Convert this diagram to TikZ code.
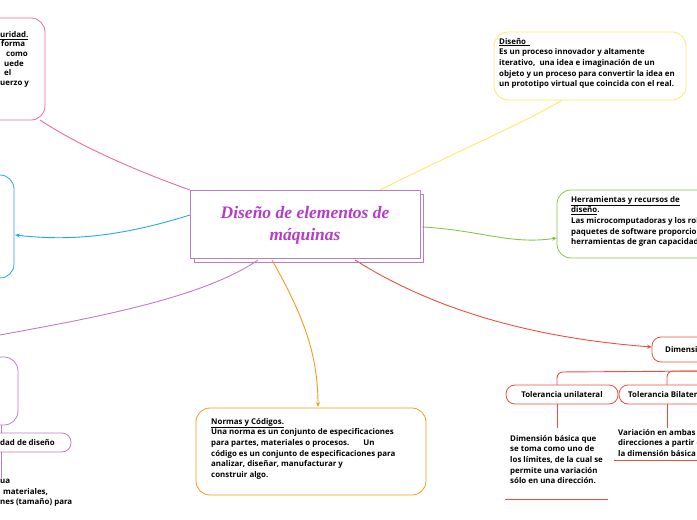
\documentclass[tikz,border=0pt]{standalone}
\usepackage{fontspec}
\setmainfont{Open Sans}
\newfontfamily\titlefont{Liberation Serif}
\usetikzlibrary{arrows.meta}
\definecolor{cpink}{HTML}{F06A9C}
\definecolor{cblue}{HTML}{2AA5E8}
\definecolor{cpurp}{HTML}{C07AC8}
\definecolor{corange}{HTML}{F39A1E}
\definecolor{cyellow}{HTML}{FDE96A}
\definecolor{cgreen}{HTML}{8BC34A}
\definecolor{cred}{HTML}{EA5040}
\definecolor{ctitle}{HTML}{B43CC8}
\tikzset{
  txt/.style={font=\bfseries\fontsize{7.9}{10.6}\selectfont, align=left, inner sep=0pt, anchor=north west, text=black},
  bub/.style={rounded corners=14pt, line width=0.8pt},
  pill/.style={rounded corners=9pt, line width=0.8pt},
  con/.style={line width=0.9pt},
  arr/.style={con,-{Stealth[length=5pt,width=4pt]}}
}
\begin{document}
\begin{tikzpicture}[x=1pt,y=-1pt]
\useasboundingbox (0,0) rectangle (697,520);
\clip (0,0) rectangle (697,520);
% connectors
\coordinate (cpinkend) at (40,120);
\draw[con,cpink] (190,190) .. controls (120,165) and (70,140) .. (cpinkend);
\draw[arr,cblue] (190,215) .. controls (110,240) and (60,240) .. (15,235);
\draw[con,cpurp] (258,260) .. controls (200,300) and (80,320) .. (0,335);
\draw[arr,corange] (272,260) .. controls (300,310) and (318,350) .. (318,407);
\draw[con,cyellow] (380,190) .. controls (460,150) and (530,120) .. (562,100);
\draw[arr,cgreen] (422,227) .. controls (480,230) and (510,245) .. (557,238);
\draw[arr,cred] (355,260) .. controls (450,320) and (560,340) .. (652,347);
% central
\draw[cpurp,line width=0.6pt] (194,194) rectangle (423,262);
\draw[cpurp,line width=0.6pt,fill=white] (190,190) rectangle (420,258);
\node[font=\titlefont\bfseries\itshape\fontsize{17.5}{22}\selectfont, text=ctitle, align=center] (central) at (305,225) {Diseño de elementos de\\máquinas};
% pink bubble
\draw[bub,cpink,fill=white] (-30,18) rectangle (45,120);
\node[txt] (pinktxt) at (0,31) {\underline{uridad.}\\[-1pt]\hspace*{1pt}forma\\[-1pt]\hspace*{6pt}como\\[-1pt]\hspace*{4pt}uede\\[-1pt]\hspace*{4pt}el\\[-1pt]uerzo y};
% blue bubble
\draw[bub,cblue,fill=white] (-30,175) rectangle (14,278);
% purple bubble
\draw[bub,cpurp,fill=white] (-30,357) rectangle (18,425);
\draw[con,cpurp] (1,425) -- (1,433);
\draw[pill,cpurp,fill=white] (-20,433) rectangle (71,452);
\node[txt,anchor=west] (pdis) at (0,443) {dad de diseño};
\draw[con,cpurp] (1,452) -- (1,478);
\node[txt] (ptxt) at (0,479) {ua\\\hspace*{3pt}materiales,\\nes (tamaño) para};
% orange
\draw[bub,corange,fill=white] (196,408) rectangle (426,495);
\node[txt] (norm) at (211,418) {\underline{Normas y Códigos.}\\Una norma es un conjunto de especificaciones\\para partes, materiales o procesos.\hspace{14pt}Un\\código es un conjunto de especificaciones para\\analizar, diseñar, manufacturar y\\construir algo.};
% yellow
\draw[bub,cyellow,fill=white] (494,32) rectangle (686,100);
\node[txt] (dis) at (499,38) {\underline{Diseño\ \ }\\Es un proceso innovador y altamente\\iterativo,\ \ una idea e imaginación de un\\objeto y un proceso para convertir la idea en\\un prototipo virtual que coincida con el real.};
% green
\draw[bub,cgreen,fill=white] (557,190) rectangle (740,258);
\node[txt] (herr) at (571,196) {\underline{Herramientas y recursos de}\\\underline{diseño}.\\Las microcomputadoras y los robustos\\paquetes de software proporcionan\\herramientas de gran capacidad};
% red tree
\draw[pill,cred,fill=white] (652,337) rectangle (760,362);
\node[txt,anchor=west] (dim) at (665,350) {Dimensiones};
\draw[con,cred,rounded corners=6pt] (710,362) -- (710,371) -- (557,372) -- (557,386);
\draw[con,cred,rounded corners=6pt] (700,371) -- (667,371) -- (667,386);
\draw[pill,cred,fill=white] (506,385) rectangle (618,404);
\node[txt,anchor=center] (uni) at (562,395) {Tolerancia unilateral};
\draw[pill,cred,fill=white] (619,385) rectangle (740,404);
\node[txt,anchor=west] (bil) at (628,395) {Tolerancia Bilateral};
\draw[con,cred] (557,404) -- (557,428);
\draw[con,cred] (667,404) -- (667,428);
\node[txt] (unitxt) at (510,435) {Dimensión básica que\\se toma como uno de\\los límites, de la cual se\\permite una variación\\sólo en una dirección.};
\draw[con,cred] (505,499) -- (608,499);
\node[txt] (biltxt) at (618,429) {Variación en ambas\\direcciones a partir de\\la dimensión básica};
\draw[con,cred] (614,460) -- (700,460);
\end{tikzpicture}
\end{document}
